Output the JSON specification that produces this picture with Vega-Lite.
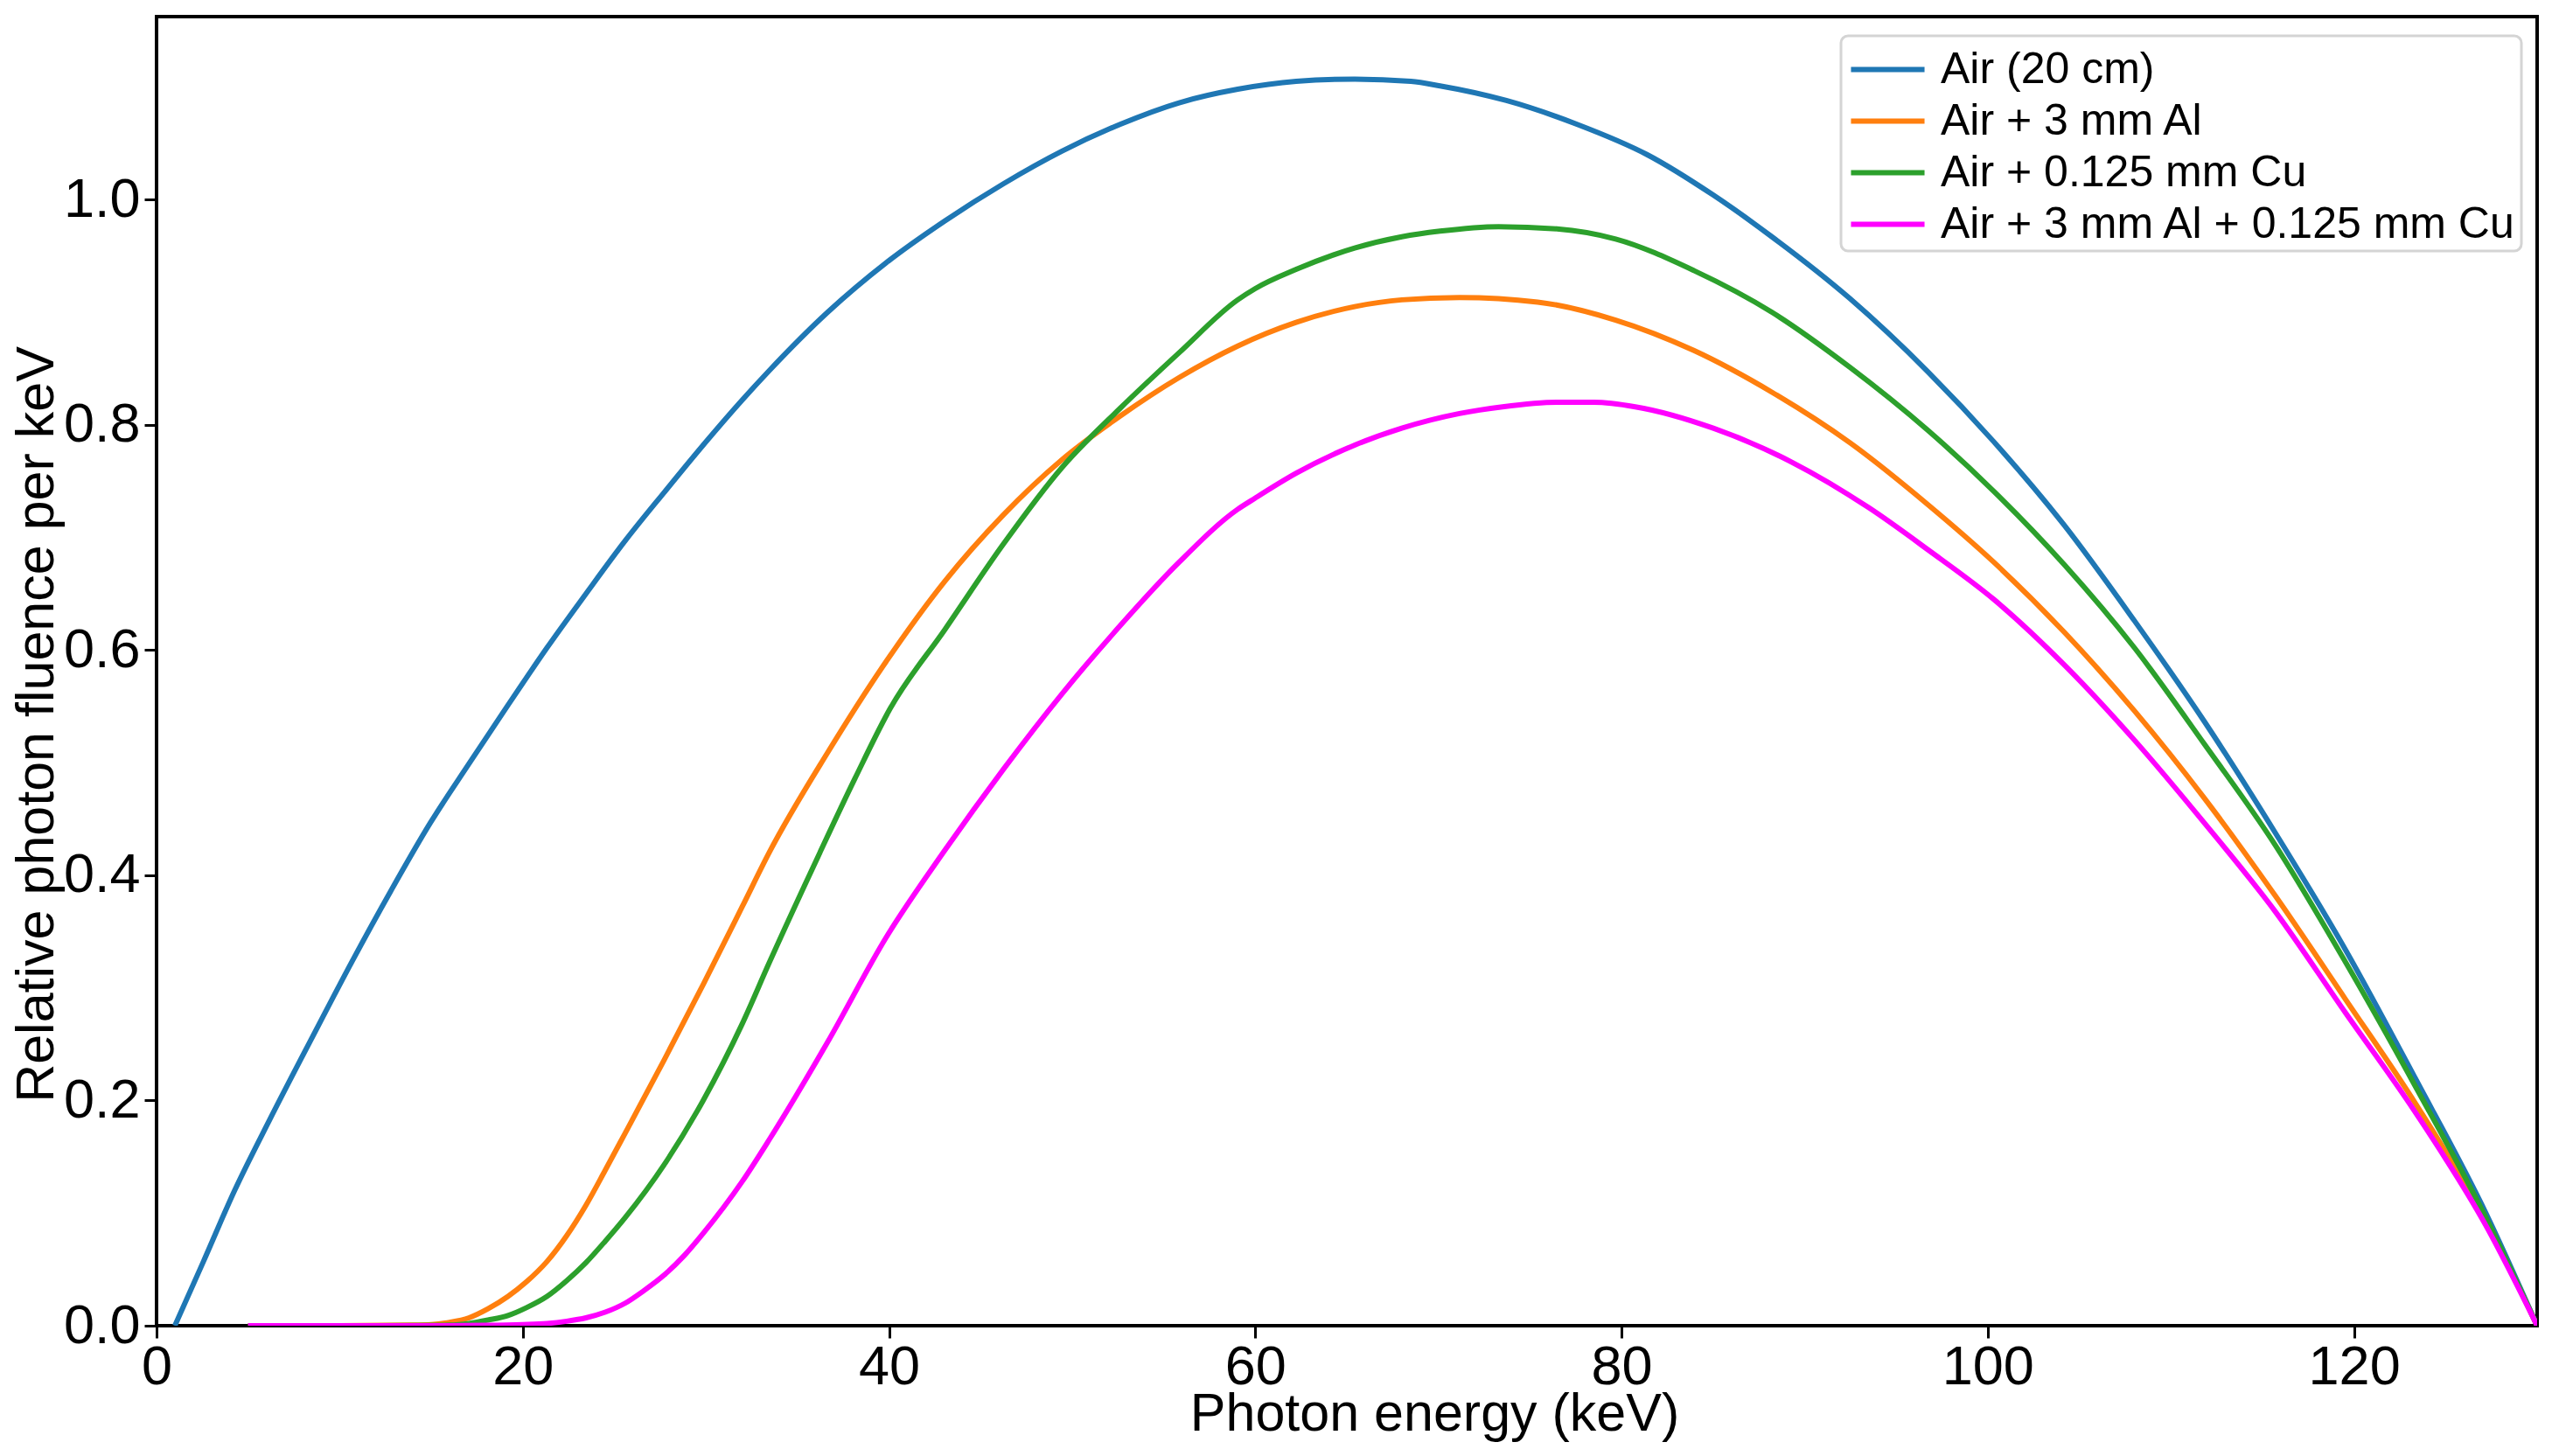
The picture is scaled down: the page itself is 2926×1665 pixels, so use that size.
{
  "$schema": "https://vega.github.io/schema/vega-lite/v6.json",
  "width": 2722,
  "height": 1497,
  "autosize": {"type": "none"},
  "padding": {"left": 179, "top": 19, "right": 25, "bottom": 149},
  "background": "white",
  "config": {
    "view": {"stroke": "black", "strokeWidth": 4},
    "font": "Liberation Sans",
    "legend": {"strokeWidth": 3}
  },
  "data": {
    "values": [
      {"series": "Air (20 cm)", "energy": 1.0, "fluence": 0},
      {"series": "Air (20 cm)", "energy": 2.56, "fluence": 0.057},
      {"series": "Air (20 cm)", "energy": 4.26, "fluence": 0.12},
      {"series": "Air (20 cm)", "energy": 6.18, "fluence": 0.183},
      {"series": "Air (20 cm)", "energy": 8.53, "fluence": 0.257},
      {"series": "Air (20 cm)", "energy": 10.66, "fluence": 0.323},
      {"series": "Air (20 cm)", "energy": 12.79, "fluence": 0.386},
      {"series": "Air (20 cm)", "energy": 14.93, "fluence": 0.446},
      {"series": "Air (20 cm)", "energy": 17.06, "fluence": 0.499},
      {"series": "Air (20 cm)", "energy": 19.19, "fluence": 0.551},
      {"series": "Air (20 cm)", "energy": 21.32, "fluence": 0.602},
      {"series": "Air (20 cm)", "energy": 23.45, "fluence": 0.65},
      {"series": "Air (20 cm)", "energy": 25.59, "fluence": 0.697},
      {"series": "Air (20 cm)", "energy": 27.72, "fluence": 0.74},
      {"series": "Air (20 cm)", "energy": 29.85, "fluence": 0.782},
      {"series": "Air (20 cm)", "energy": 31.98, "fluence": 0.822},
      {"series": "Air (20 cm)", "energy": 33.45, "fluence": 0.848},
      {"series": "Air (20 cm)", "energy": 36.65, "fluence": 0.9},
      {"series": "Air (20 cm)", "energy": 39.85, "fluence": 0.944},
      {"series": "Air (20 cm)", "energy": 43.04, "fluence": 0.981},
      {"series": "Air (20 cm)", "energy": 46.24, "fluence": 1.014},
      {"series": "Air (20 cm)", "energy": 49.44, "fluence": 1.043},
      {"series": "Air (20 cm)", "energy": 52.64, "fluence": 1.067},
      {"series": "Air (20 cm)", "energy": 55.84, "fluence": 1.086},
      {"series": "Air (20 cm)", "energy": 59.04, "fluence": 1.098},
      {"series": "Air (20 cm)", "energy": 62.23, "fluence": 1.105},
      {"series": "Air (20 cm)", "energy": 65.43, "fluence": 1.107},
      {"series": "Air (20 cm)", "energy": 68.5, "fluence": 1.105},
      {"series": "Air (20 cm)", "energy": 70.09, "fluence": 1.101},
      {"series": "Air (20 cm)", "energy": 73.71, "fluence": 1.088},
      {"series": "Air (20 cm)", "energy": 77.55, "fluence": 1.067},
      {"series": "Air (20 cm)", "energy": 81.39, "fluence": 1.04},
      {"series": "Air (20 cm)", "energy": 85.01, "fluence": 1.004},
      {"series": "Air (20 cm)", "energy": 88.21, "fluence": 0.967},
      {"series": "Air (20 cm)", "energy": 92.48, "fluence": 0.912},
      {"series": "Air (20 cm)", "energy": 96.74, "fluence": 0.847},
      {"series": "Air (20 cm)", "energy": 100.33, "fluence": 0.785},
      {"series": "Air (20 cm)", "energy": 104.17, "fluence": 0.711},
      {"series": "Air (20 cm)", "energy": 108.01, "fluence": 0.626},
      {"series": "Air (20 cm)", "energy": 111.85, "fluence": 0.536},
      {"series": "Air (20 cm)", "energy": 115.69, "fluence": 0.438},
      {"series": "Air (20 cm)", "energy": 119.53, "fluence": 0.334},
      {"series": "Air (20 cm)", "energy": 123.37, "fluence": 0.219},
      {"series": "Air (20 cm)", "energy": 127.2, "fluence": 0.1},
      {"series": "Air (20 cm)", "energy": 130, "fluence": 0},

      {"series": "Air + 3 mm Al", "energy": 5, "fluence": 0},
      {"series": "Air + 3 mm Al", "energy": 10, "fluence": 0},
      {"series": "Air + 3 mm Al", "energy": 14, "fluence": 0.0005},
      {"series": "Air + 3 mm Al", "energy": 15, "fluence": 0.001},
      {"series": "Air + 3 mm Al", "energy": 16, "fluence": 0.003},
      {"series": "Air + 3 mm Al", "energy": 17.06, "fluence": 0.007},
      {"series": "Air + 3 mm Al", "energy": 18.1, "fluence": 0.015},
      {"series": "Air + 3 mm Al", "energy": 19.19, "fluence": 0.026},
      {"series": "Air + 3 mm Al", "energy": 20.2, "fluence": 0.039},
      {"series": "Air + 3 mm Al", "energy": 21.32, "fluence": 0.057},
      {"series": "Air + 3 mm Al", "energy": 22.4, "fluence": 0.08},
      {"series": "Air + 3 mm Al", "energy": 23.45, "fluence": 0.107},
      {"series": "Air + 3 mm Al", "energy": 24.5, "fluence": 0.138},
      {"series": "Air + 3 mm Al", "energy": 25.59, "fluence": 0.171},
      {"series": "Air + 3 mm Al", "energy": 27.72, "fluence": 0.236},
      {"series": "Air + 3 mm Al", "energy": 29.85, "fluence": 0.303},
      {"series": "Air + 3 mm Al", "energy": 31.98, "fluence": 0.372},
      {"series": "Air + 3 mm Al", "energy": 33.45, "fluence": 0.42},
      {"series": "Air + 3 mm Al", "energy": 36.65, "fluence": 0.509},
      {"series": "Air + 3 mm Al", "energy": 39.85, "fluence": 0.59},
      {"series": "Air + 3 mm Al", "energy": 43.04, "fluence": 0.661},
      {"series": "Air + 3 mm Al", "energy": 46.24, "fluence": 0.72},
      {"series": "Air + 3 mm Al", "energy": 49.44, "fluence": 0.769},
      {"series": "Air + 3 mm Al", "energy": 52.64, "fluence": 0.808},
      {"series": "Air + 3 mm Al", "energy": 55.84, "fluence": 0.842},
      {"series": "Air + 3 mm Al", "energy": 59.04, "fluence": 0.87},
      {"series": "Air + 3 mm Al", "energy": 62.23, "fluence": 0.891},
      {"series": "Air + 3 mm Al", "energy": 65.43, "fluence": 0.905},
      {"series": "Air + 3 mm Al", "energy": 68, "fluence": 0.911},
      {"series": "Air + 3 mm Al", "energy": 71.15, "fluence": 0.913},
      {"series": "Air + 3 mm Al", "energy": 75.42, "fluence": 0.909},
      {"series": "Air + 3 mm Al", "energy": 79.68, "fluence": 0.893},
      {"series": "Air + 3 mm Al", "energy": 83.95, "fluence": 0.866},
      {"series": "Air + 3 mm Al", "energy": 88.21, "fluence": 0.829},
      {"series": "Air + 3 mm Al", "energy": 92.48, "fluence": 0.784},
      {"series": "Air + 3 mm Al", "energy": 96.74, "fluence": 0.729},
      {"series": "Air + 3 mm Al", "energy": 100.33, "fluence": 0.678},
      {"series": "Air + 3 mm Al", "energy": 104.17, "fluence": 0.616},
      {"series": "Air + 3 mm Al", "energy": 108.01, "fluence": 0.546},
      {"series": "Air + 3 mm Al", "energy": 111.85, "fluence": 0.468},
      {"series": "Air + 3 mm Al", "energy": 115.69, "fluence": 0.382},
      {"series": "Air + 3 mm Al", "energy": 119.53, "fluence": 0.29},
      {"series": "Air + 3 mm Al", "energy": 123.37, "fluence": 0.197},
      {"series": "Air + 3 mm Al", "energy": 127.2, "fluence": 0.093},
      {"series": "Air + 3 mm Al", "energy": 130, "fluence": 0},

      {"series": "Air + 0.125 mm Cu", "energy": 5, "fluence": 0},
      {"series": "Air + 0.125 mm Cu", "energy": 12, "fluence": 0},
      {"series": "Air + 0.125 mm Cu", "energy": 16, "fluence": 0.0005},
      {"series": "Air + 0.125 mm Cu", "energy": 17.06, "fluence": 0.002},
      {"series": "Air + 0.125 mm Cu", "energy": 18.1, "fluence": 0.005},
      {"series": "Air + 0.125 mm Cu", "energy": 19.19, "fluence": 0.009},
      {"series": "Air + 0.125 mm Cu", "energy": 20.2, "fluence": 0.016},
      {"series": "Air + 0.125 mm Cu", "energy": 21.32, "fluence": 0.026},
      {"series": "Air + 0.125 mm Cu", "energy": 22.4, "fluence": 0.04},
      {"series": "Air + 0.125 mm Cu", "energy": 23.45, "fluence": 0.056},
      {"series": "Air + 0.125 mm Cu", "energy": 24.5, "fluence": 0.075},
      {"series": "Air + 0.125 mm Cu", "energy": 25.59, "fluence": 0.096},
      {"series": "Air + 0.125 mm Cu", "energy": 27.72, "fluence": 0.143},
      {"series": "Air + 0.125 mm Cu", "energy": 29.85, "fluence": 0.2},
      {"series": "Air + 0.125 mm Cu", "energy": 31.98, "fluence": 0.268},
      {"series": "Air + 0.125 mm Cu", "energy": 33.45, "fluence": 0.322},
      {"series": "Air + 0.125 mm Cu", "energy": 36.22, "fluence": 0.42},
      {"series": "Air + 0.125 mm Cu", "energy": 38.14, "fluence": 0.486},
      {"series": "Air + 0.125 mm Cu", "energy": 40.06, "fluence": 0.548},
      {"series": "Air + 0.125 mm Cu", "energy": 43.04, "fluence": 0.618},
      {"series": "Air + 0.125 mm Cu", "energy": 46.24, "fluence": 0.694},
      {"series": "Air + 0.125 mm Cu", "energy": 49.44, "fluence": 0.762},
      {"series": "Air + 0.125 mm Cu", "energy": 52.64, "fluence": 0.815},
      {"series": "Air + 0.125 mm Cu", "energy": 55.84, "fluence": 0.864},
      {"series": "Air + 0.125 mm Cu", "energy": 59.04, "fluence": 0.911},
      {"series": "Air + 0.125 mm Cu", "energy": 60.0, "fluence": 0.921},
      {"series": "Air + 0.125 mm Cu", "energy": 62.23, "fluence": 0.938},
      {"series": "Air + 0.125 mm Cu", "energy": 65.43, "fluence": 0.957},
      {"series": "Air + 0.125 mm Cu", "energy": 68, "fluence": 0.967},
      {"series": "Air + 0.125 mm Cu", "energy": 70.09, "fluence": 0.972},
      {"series": "Air + 0.125 mm Cu", "energy": 73.29, "fluence": 0.976},
      {"series": "Air + 0.125 mm Cu", "energy": 76.48, "fluence": 0.974},
      {"series": "Air + 0.125 mm Cu", "energy": 79.68, "fluence": 0.965},
      {"series": "Air + 0.125 mm Cu", "energy": 83.95, "fluence": 0.937},
      {"series": "Air + 0.125 mm Cu", "energy": 88.21, "fluence": 0.9},
      {"series": "Air + 0.125 mm Cu", "energy": 92.48, "fluence": 0.851},
      {"series": "Air + 0.125 mm Cu", "energy": 96.74, "fluence": 0.795},
      {"series": "Air + 0.125 mm Cu", "energy": 100.33, "fluence": 0.741},
      {"series": "Air + 0.125 mm Cu", "energy": 104.17, "fluence": 0.676},
      {"series": "Air + 0.125 mm Cu", "energy": 108.01, "fluence": 0.602},
      {"series": "Air + 0.125 mm Cu", "energy": 111.85, "fluence": 0.516},
      {"series": "Air + 0.125 mm Cu", "energy": 115.69, "fluence": 0.427},
      {"series": "Air + 0.125 mm Cu", "energy": 119.53, "fluence": 0.323},
      {"series": "Air + 0.125 mm Cu", "energy": 123.37, "fluence": 0.212},
      {"series": "Air + 0.125 mm Cu", "energy": 127.2, "fluence": 0.096},
      {"series": "Air + 0.125 mm Cu", "energy": 130, "fluence": 0},

      {"series": "Air + 3 mm Al + 0.125 mm Cu", "energy": 5, "fluence": 0},
      {"series": "Air + 3 mm Al + 0.125 mm Cu", "energy": 15, "fluence": 0},
      {"series": "Air + 3 mm Al + 0.125 mm Cu", "energy": 18, "fluence": 0.0003},
      {"series": "Air + 3 mm Al + 0.125 mm Cu", "energy": 20, "fluence": 0.001},
      {"series": "Air + 3 mm Al + 0.125 mm Cu", "energy": 21.32, "fluence": 0.002},
      {"series": "Air + 3 mm Al + 0.125 mm Cu", "energy": 22.4, "fluence": 0.004},
      {"series": "Air + 3 mm Al + 0.125 mm Cu", "energy": 23.45, "fluence": 0.007},
      {"series": "Air + 3 mm Al + 0.125 mm Cu", "energy": 24.5, "fluence": 0.012},
      {"series": "Air + 3 mm Al + 0.125 mm Cu", "energy": 25.59, "fluence": 0.02},
      {"series": "Air + 3 mm Al + 0.125 mm Cu", "energy": 26.6, "fluence": 0.031},
      {"series": "Air + 3 mm Al + 0.125 mm Cu", "energy": 27.72, "fluence": 0.045},
      {"series": "Air + 3 mm Al + 0.125 mm Cu", "energy": 28.8, "fluence": 0.062},
      {"series": "Air + 3 mm Al + 0.125 mm Cu", "energy": 29.85, "fluence": 0.082},
      {"series": "Air + 3 mm Al + 0.125 mm Cu", "energy": 31.98, "fluence": 0.128},
      {"series": "Air + 3 mm Al + 0.125 mm Cu", "energy": 33.45, "fluence": 0.165},
      {"series": "Air + 3 mm Al + 0.125 mm Cu", "energy": 36.65, "fluence": 0.252},
      {"series": "Air + 3 mm Al + 0.125 mm Cu", "energy": 39.85, "fluence": 0.345},
      {"series": "Air + 3 mm Al + 0.125 mm Cu", "energy": 43.04, "fluence": 0.422},
      {"series": "Air + 3 mm Al + 0.125 mm Cu", "energy": 46.24, "fluence": 0.494},
      {"series": "Air + 3 mm Al + 0.125 mm Cu", "energy": 49.44, "fluence": 0.561},
      {"series": "Air + 3 mm Al + 0.125 mm Cu", "energy": 52.64, "fluence": 0.622},
      {"series": "Air + 3 mm Al + 0.125 mm Cu", "energy": 55.84, "fluence": 0.678},
      {"series": "Air + 3 mm Al + 0.125 mm Cu", "energy": 59.04, "fluence": 0.725},
      {"series": "Air + 3 mm Al + 0.125 mm Cu", "energy": 60.0, "fluence": 0.735},
      {"series": "Air + 3 mm Al + 0.125 mm Cu", "energy": 62.23, "fluence": 0.757},
      {"series": "Air + 3 mm Al + 0.125 mm Cu", "energy": 65.43, "fluence": 0.782},
      {"series": "Air + 3 mm Al + 0.125 mm Cu", "energy": 68, "fluence": 0.797},
      {"series": "Air + 3 mm Al + 0.125 mm Cu", "energy": 71.15, "fluence": 0.81},
      {"series": "Air + 3 mm Al + 0.125 mm Cu", "energy": 73.5, "fluence": 0.816},
      {"series": "Air + 3 mm Al + 0.125 mm Cu", "energy": 76.48, "fluence": 0.82},
      {"series": "Air + 3 mm Al + 0.125 mm Cu", "energy": 78.5, "fluence": 0.82},
      {"series": "Air + 3 mm Al + 0.125 mm Cu", "energy": 80.75, "fluence": 0.816},
      {"series": "Air + 3 mm Al + 0.125 mm Cu", "energy": 85.01, "fluence": 0.797},
      {"series": "Air + 3 mm Al + 0.125 mm Cu", "energy": 89.28, "fluence": 0.767},
      {"series": "Air + 3 mm Al + 0.125 mm Cu", "energy": 93.54, "fluence": 0.726},
      {"series": "Air + 3 mm Al + 0.125 mm Cu", "energy": 96.74, "fluence": 0.689},
      {"series": "Air + 3 mm Al + 0.125 mm Cu", "energy": 100.33, "fluence": 0.645},
      {"series": "Air + 3 mm Al + 0.125 mm Cu", "energy": 104.17, "fluence": 0.587},
      {"series": "Air + 3 mm Al + 0.125 mm Cu", "energy": 108.01, "fluence": 0.52},
      {"series": "Air + 3 mm Al + 0.125 mm Cu", "energy": 111.85, "fluence": 0.446},
      {"series": "Air + 3 mm Al + 0.125 mm Cu", "energy": 115.69, "fluence": 0.368},
      {"series": "Air + 3 mm Al + 0.125 mm Cu", "energy": 119.53, "fluence": 0.278},
      {"series": "Air + 3 mm Al + 0.125 mm Cu", "energy": 123.37, "fluence": 0.189},
      {"series": "Air + 3 mm Al + 0.125 mm Cu", "energy": 127.2, "fluence": 0.089},
      {"series": "Air + 3 mm Al + 0.125 mm Cu", "energy": 130, "fluence": 0}
    ]
  },
  "mark": {"type": "line", "strokeWidth": 6, "clip": true, "interpolate": "monotone"},
  "encoding": {
    "x": {
      "field": "energy",
      "type": "quantitative",
      "scale": {"domain": [0, 130], "nice": false, "zero": false},
      "axis": {
        "title": "Photon energy (keV)",
        "values": [0, 20, 40, 60, 80, 100, 120],
        "format": "d",
        "grid": false,
        "domain": false,
        "labelFlush": false,
        "tickColor": "black",
        "tickWidth": 3,
        "tickSize": 14,
        "labelFontSize": 63,
        "labelFont": "Liberation Sans",
        "labelColor": "black",
        "labelPadding": 2,
        "titleFont": "Liberation Sans",
        "titleFontSize": 61,
        "titleFontWeight": "normal",
        "titleColor": "black",
        "titleX": 1461,
        "titleY": 119,
        "titleAlign": "center",
        "titleBaseline": "alphabetic"
      }
    },
    "y": {
      "field": "fluence",
      "type": "quantitative",
      "scale": {"domain": [0, 1.1625], "nice": false},
      "axis": {
        "title": "Relative photon fluence per keV",
        "values": [0, 0.2, 0.4, 0.6, 0.8, 1.0],
        "format": ".1f",
        "grid": false,
        "domain": false,
        "labelFlush": false,
        "tickColor": "black",
        "tickWidth": 3,
        "tickSize": 14,
        "labelFontSize": 63,
        "labelFont": "Liberation Sans",
        "labelColor": "black",
        "labelPadding": 5,
        "titleFont": "Liberation Sans",
        "titleFontSize": 61,
        "titleFontWeight": "normal",
        "titleColor": "black",
        "titleAngle": -90,
        "titleX": -119,
        "titleY": 809,
        "titleAlign": "center",
        "titleBaseline": "alphabetic"
      }
    },
    "color": {
      "field": "series",
      "type": "nominal",
      "scale": {
        "domain": ["Air (20 cm)", "Air + 3 mm Al", "Air + 0.125 mm Cu", "Air + 3 mm Al + 0.125 mm Cu"],
        "range": ["#1f77b4", "#ff7f0e", "#2ca02c", "#ff00ff"]
      },
      "legend": {
        "title": null,
        "orient": "none",
        "legendX": 1926,
        "legendY": 22,
        "symbolType": "M-1.39,0L1.39,0",
        "symbolSize": 3660,
        "symbolStrokeWidth": 6,
        "symbolOffset": 15,
        "labelFontSize": 50,
        "labelFont": "Liberation Sans",
        "labelColor": "black",
        "labelOffset": 27,
        "labelLimit": 0,
        "padding": 5,
        "rowPadding": 0,
        "strokeColor": "#d4d4d4",
        "fillColor": "white",
        "cornerRadius": 8
      }
    }
  }
}
